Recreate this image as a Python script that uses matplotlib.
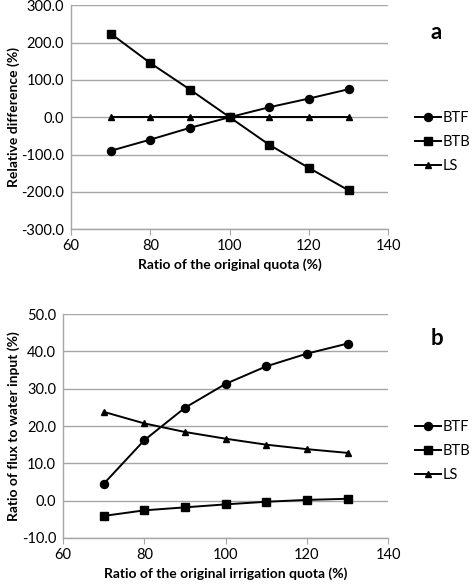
import matplotlib.pyplot as plt

plt.rcParams["font.family"] = ["Lato", "DejaVu Sans"]

quota = [70, 80, 90, 100, 110, 120, 130]

# panel a: relative difference (%)
rel_btf = [-90.0, -60.0, -28.5, 0.0, 26.7, 50.0, 75.0]
rel_btb = [224.0, 145.0, 74.0, 0.0, -74.0, -136.0, -196.0]
rel_ls = [0.0, 0.0, 0.0, 0.0, 0.0, 0.0, 0.0]

# panel b: ratio of flux to water input (%)
flux_btf = [4.5, 16.2, 24.9, 31.3, 36.0, 39.4, 42.1]
flux_btb = [-4.1, -2.6, -1.8, -1.0, -0.3, 0.2, 0.5]
flux_ls = [23.8, 20.7, 18.4, 16.6, 15.0, 13.8, 12.8]

series_names = ["BTF", "BTB", "LS"]
markers = ["o", "s", "^"]
marker_sizes = [5.8, 5.8, 5]

GRID = "#a6a6a6"


def style_axes(ax, yticks, xlabel, ylabel):
    ax.set_xlim(60, 140)
    ax.set_xticks([60, 80, 100, 120, 140])
    ax.set_ylim(yticks[0], yticks[-1])
    ax.set_yticks(yticks)
    ax.set_yticklabels([f"{v:.1f}" for v in yticks])
    ax.yaxis.grid(True, color=GRID, linewidth=1.0)
    ax.set_axisbelow(True)
    for side in ("top", "right"):
        ax.spines[side].set_visible(False)
    for side in ("left", "bottom"):
        ax.spines[side].set_color(GRID)
        ax.spines[side].set_linewidth(1.0)
    ax.tick_params(axis="y", length=0, labelsize=10.5, pad=5)
    ax.tick_params(axis="x", length=4, color=GRID, labelsize=10.5, pad=3)
    ax.set_xlabel(xlabel, fontsize=10, fontweight="bold", labelpad=4)
    ax.set_ylabel(ylabel, fontsize=10, fontweight="bold", labelpad=1)


def draw_series(ax, values):
    for name, vals, mk, ms in zip(series_names, values, markers, marker_sizes):
        ax.plot(quota, vals, color="black", linewidth=1.4, marker=mk,
                markersize=ms, label=name, clip_on=False)


def add_legend(ax, x_anchor):
    ax.legend(loc="center left", bbox_to_anchor=(x_anchor, 0.388), frameon=False,
              fontsize=10.5, handlelength=1.8, handletextpad=0.1,
              labelspacing=0.7, borderaxespad=0)


fig = plt.figure(figsize=(4.74, 5.86), dpi=100)

ax_a = fig.add_axes([0.150, 0.609, 0.669, 0.382])
draw_series(ax_a, [rel_btf, rel_btb, rel_ls])
style_axes(ax_a, [-300, -200, -100, 0, 100, 200, 300],
           "Ratio of the original quota (%)", "Relative difference (%)")
add_legend(ax_a, 1.065)
fig.text(0.921, 0.944, "a", fontsize=16, fontweight="bold", ha="center", va="center")

ax_b = fig.add_axes([0.133, 0.082, 0.686, 0.382])
draw_series(ax_b, [flux_btf, flux_btb, flux_ls])
style_axes(ax_b, [-10, 0, 10, 20, 30, 40, 50],
           "Ratio of the original irrigation quota (%)",
           "Ratio of flux to water input (%)")
add_legend(ax_b, 1.063)
fig.text(0.921, 0.422, "b", fontsize=16, fontweight="bold", ha="center", va="center")

fig.savefig("out.png", dpi=100)
